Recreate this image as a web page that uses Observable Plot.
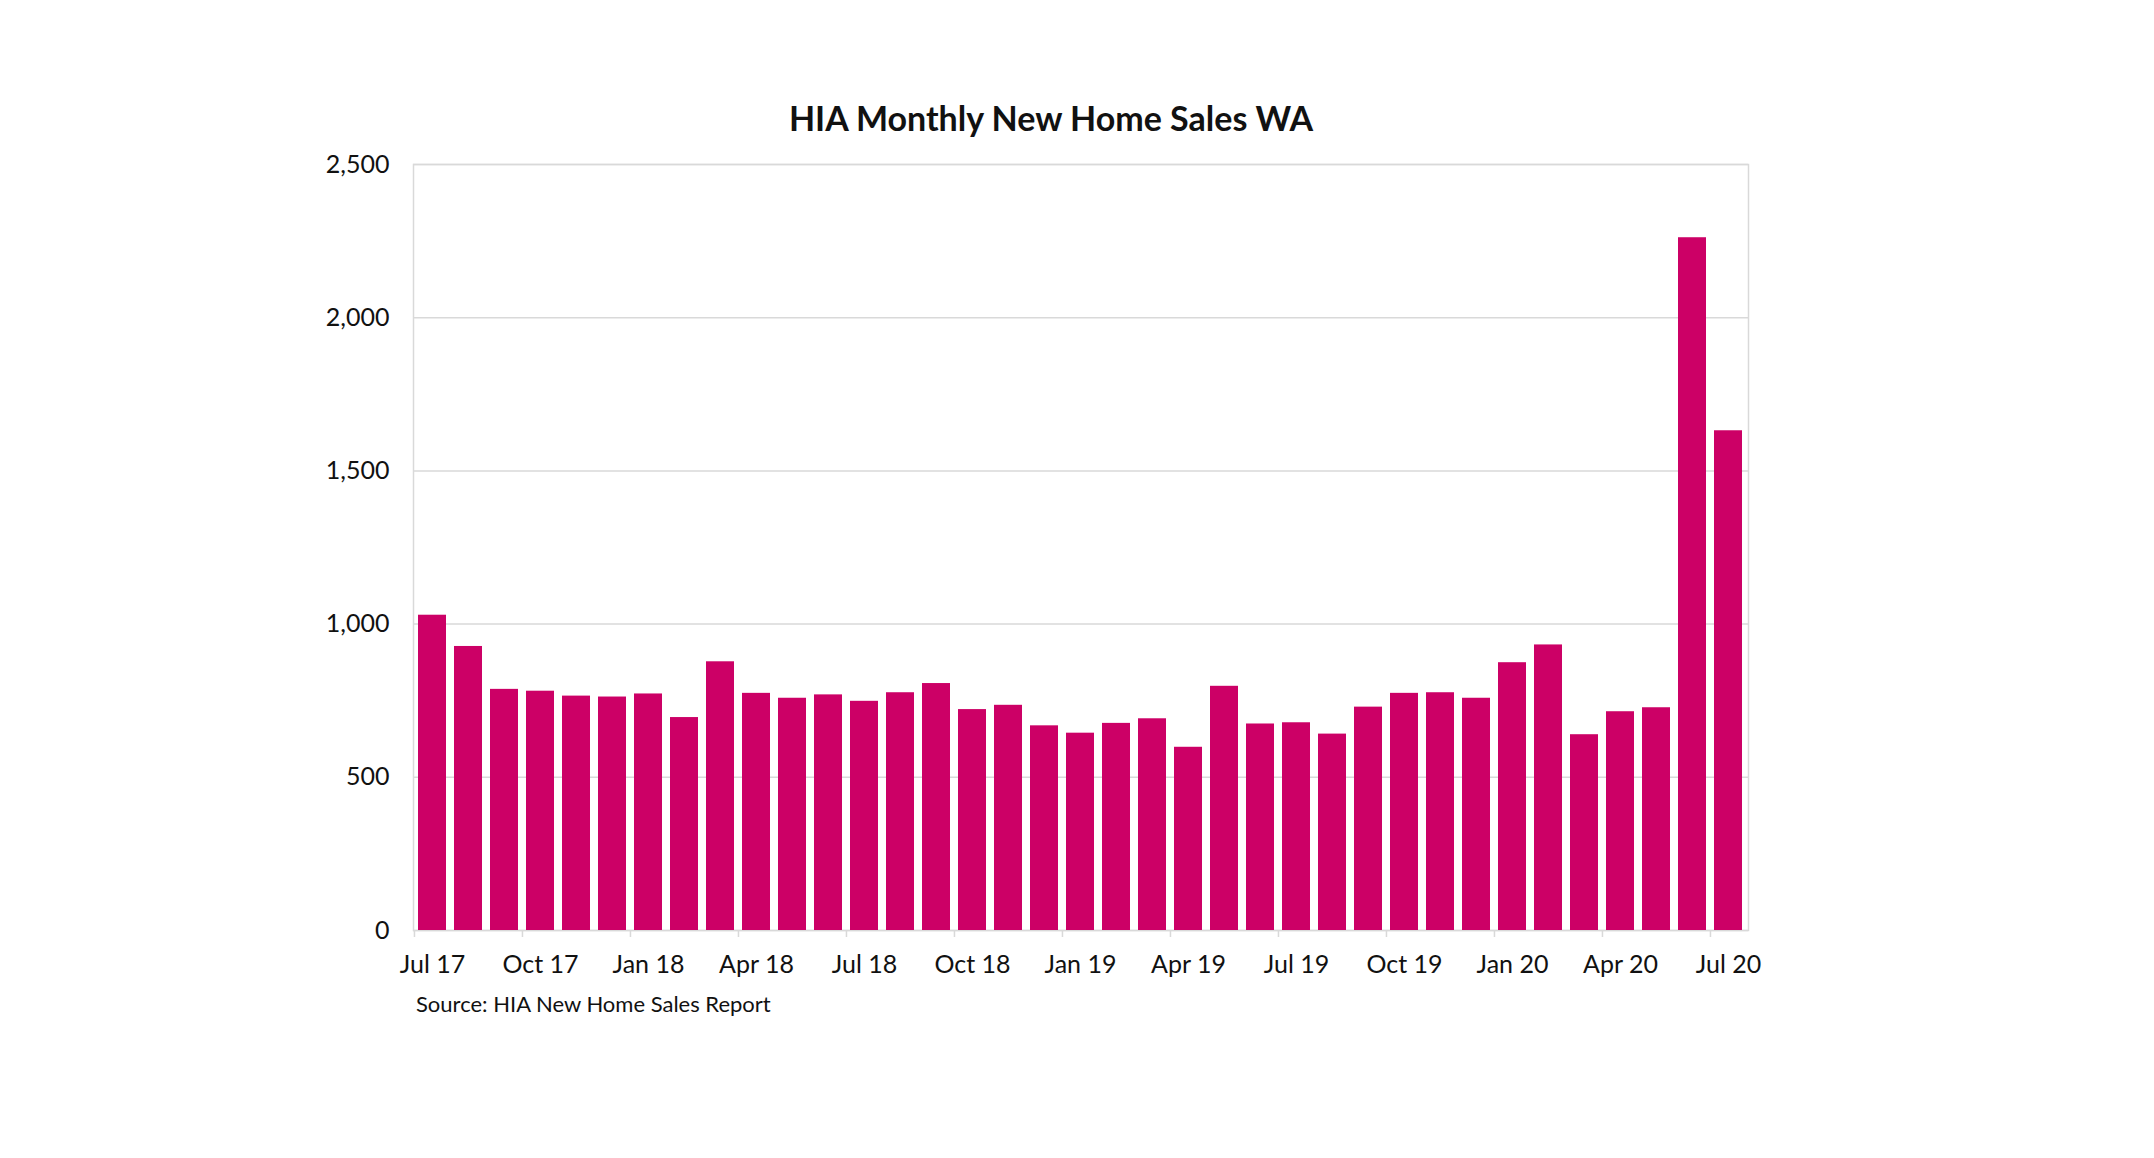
<!DOCTYPE html>
<html>
<head>
<meta charset="utf-8">
<script src="https://cdn.jsdelivr.net/npm/d3@7"></script>
<script src="https://cdn.jsdelivr.net/npm/@observablehq/plot@0.6"></script>
<style>
  html, body { margin: 0; padding: 0; background: #fff; }
  #wrap { position: relative; width: 2154px; height: 1158px; overflow: hidden; font-family: Lato, "Open Sans", sans-serif; color: #111; }
  #wrap svg { position: absolute; left: 0; top: 0; }
  #title { position: absolute; left: 0; width: 2102px; top: 100px; text-align: center; font-weight: 700; font-size: 34px; line-height: 36px; z-index: 2; }
  #source { position: absolute; left: 416px; top: 992px; font-size: 22px; line-height: 24px; z-index: 2; }
</style>
</head>
<body>
<div id="wrap">
  <div id="title">HIA Monthly New Home Sales WA</div>
  <div id="source">Source: HIA New Home Sales Report</div>
</div>
<script>
// Months Jul 2017 – Jul 2020
const months = [
  "Jul 17","Aug 17","Sep 17","Oct 17","Nov 17","Dec 17",
  "Jan 18","Feb 18","Mar 18","Apr 18","May 18","Jun 18",
  "Jul 18","Aug 18","Sep 18","Oct 18","Nov 18","Dec 18",
  "Jan 19","Feb 19","Mar 19","Apr 19","May 19","Jun 19",
  "Jul 19","Aug 19","Sep 19","Oct 19","Nov 19","Dec 19",
  "Jan 20","Feb 20","Mar 20","Apr 20","May 20","Jun 20",
  "Jul 20"
];
const sales = [
  1029, 927, 787, 781, 765, 762,
  772, 695, 877, 774, 758, 769,
  748, 776, 806, 721, 735, 668,
  644, 676, 691, 598, 797, 674,
  678, 641, 729, 774, 776, 758,
  874, 932, 639, 714, 727, 2261,
  1631
];
const xTickLabels = ["Jul 17","Oct 17","Jan 18","Apr 18","Jul 18","Oct 18","Jan 19","Apr 19","Jul 19","Oct 19","Jan 20","Apr 20","Jul 20"];
const yTicks = [0, 500, 1000, 1500, 2000, 2500];

const data = months.map((m, i) => ({month: m, value: sales[i]}));

const W = 2154, H = 1158;
const mL = 413, mR = 406, mT = 164, mB = 228;
const step = (W - mL - mR) / months.length;
const grid = "#d9d9d9";

const chart = Plot.plot({
  width: W,
  height: H,
  marginLeft: mL,
  marginRight: mR,
  marginTop: mT,
  marginBottom: mB,
  style: {fontFamily: "Lato, 'Open Sans', sans-serif", fontSize: "25px", color: "#111", background: "transparent"},
  x: {type: "band", domain: months, paddingInner: 0.21, paddingOuter: 0.105, label: null},
  y: {domain: [0, 2500], label: null},
  marks: [
    Plot.ruleY(yTicks, {stroke: grid, strokeWidth: 1.5}),
    Plot.frame({stroke: grid, strokeWidth: 1.5}),
    Plot.barY(data, {x: "month", y: "value", fill: "#cc0066"}),
    Plot.axisY({ticks: yTicks, tickSize: 0, tickPadding: 24, tickFormat: d3.format(","), fill: "#111", label: null}),
    Plot.axisX({ticks: xTickLabels, tickSize: 7, tickFormat: () => "", stroke: grid, strokeWidth: 1.5, dx: -step / 2, label: null}),
    Plot.axisX({ticks: xTickLabels, tickSize: 0, tickPadding: 25, fill: "#111", label: null})
  ]
});
document.getElementById("wrap").appendChild(chart);
</script>
</body>
</html>
